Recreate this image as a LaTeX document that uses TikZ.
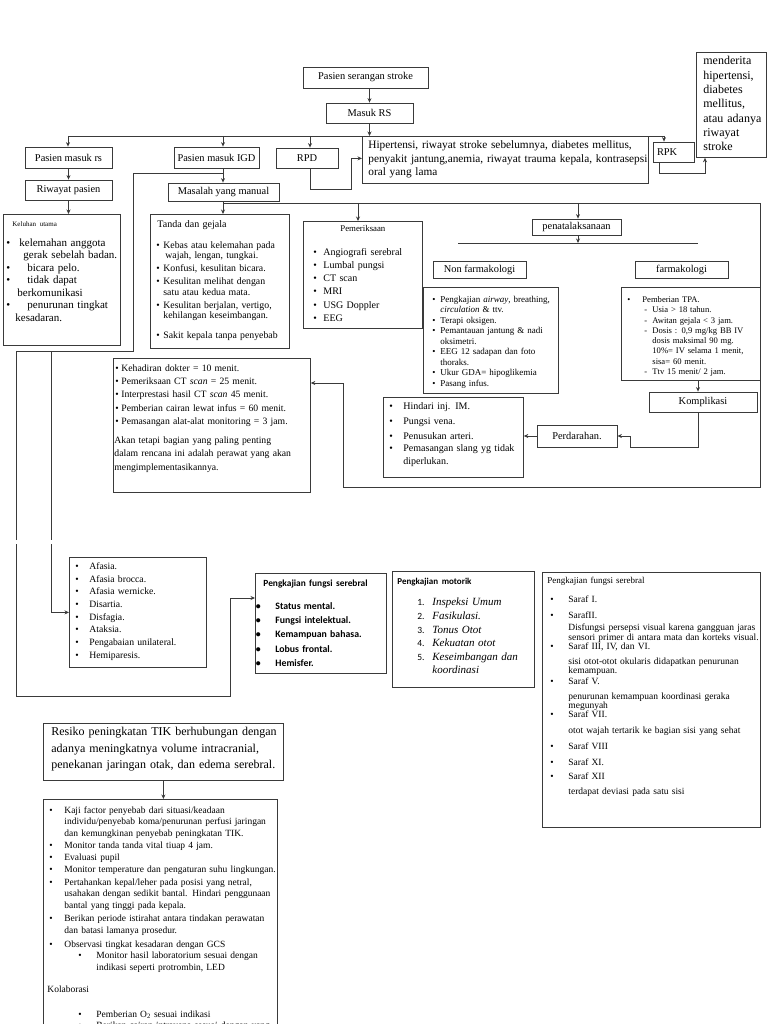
\documentclass[tikz,border=0pt]{standalone}
\usepackage{fontspec}
\setmainfont{Liberation Serif}
\newfontfamily\calib{Carlito}
\usetikzlibrary{arrows.meta,calc}

\definecolor{strich}{HTML}{3A3A3A}

% --- Zeilen mit festem Grundlinienabstand ---
\newcommand{\zsetup}{\baselineskip=0pt\lineskip=0pt\lineskiplimit=-\maxdimen\parindent=0pt\parskip=0pt\relax}
\newcommand{\erstezeile}[1]{\noindent\mbox{#1}\par}
\newcommand{\zeile}[2]{\vspace{#1}\noindent\mbox{#2}\par}
\newcommand{\punkt}[2]{\makebox[#2][l]{\hspace*{#1}\textbullet}}
\newcommand{\einzug}[1]{\hspace*{#1}}
\newcommand{\block}[2]{\makebox[#1][s]{#2}}
\newcommand{\fsz}[1]{\fontsize{#1}{#1}\selectfont}

\begin{document}
\begin{tikzpicture}[
  x=1pt, y=-1pt,
  >={Stealth[length=4.5pt,width=4pt]},
  linie/.style={draw=strich, line width=0.8pt},
  pfeil/.style={linie, ->},
  kasten/.style={draw=strich, line width=0.8pt, inner sep=0pt, font=\fsz{10.4}},
  tafel/.style={draw=strich, line width=0.8pt, inner sep=0pt, anchor=north west, execute at begin node=\zsetup},
]
\clip (0,0) rectangle (768,1024);

% --- Kopf: Aufnahme ---
\node[kasten, minimum width=125pt, minimum height=21pt] (stroke) at (365.5,77.5) {Pasien serangan stroke};
\node[kasten, minimum width=87pt, minimum height=20pt] (masuk) at (369.5,113) {Masuk RS};

% --- Erste Ebene ---
\node[kasten, minimum width=87pt, minimum height=21pt] (prs) at (68.5,157.5) {Pasien masuk rs};
\node[kasten, minimum width=85pt, minimum height=21pt] (igd) at (216.5,157.5) {Pasien masuk IGD};
\node[kasten, minimum width=62pt, minimum height=20pt] (rpd) at (307,158) {RPD};
\node[tafel, text width=286pt, text height=12.5pt, text depth=34.5pt, font=\fsz{11.3}] (hip) at (362,136) {%
  \erstezeile{\einzug{6pt}\block{275pt}{Hipertensi, riwayat stroke sebelumnya, diabetes mellitus,}}
  \zeile{13.5pt}{\einzug{6pt}\block{275pt}{penyakit jantung,anemia, riwayat trauma kepala, kontrasepsi}}
  \zeile{13.5pt}{\einzug{6pt}oral yang lama}};
\node[kasten, minimum width=41pt, minimum height=20pt, text width=33pt, align=left] (rpk) at (673.5,152) {RPK};
\node[tafel, text width=70pt, text height=12.5pt, text depth=92.5pt, font=\fsz{12}] (mend) at (696,52) {%
  \erstezeile{\einzug{7pt}menderita}
  \zeile{14.3pt}{\einzug{7pt}hipertensi,}
  \zeile{14.3pt}{\einzug{7pt}diabetes}
  \zeile{14.3pt}{\einzug{7pt}mellitus,}
  \zeile{14.3pt}{\einzug{7pt}atau adanya}
  \zeile{14.3pt}{\einzug{7pt}riwayat}
  \zeile{14.3pt}{\einzug{7pt}stroke}};

% --- Zweite Ebene ---
\node[kasten, minimum width=87pt, minimum height=20pt] (riw) at (68.5,190) {Riwayat pasien};
\node[kasten, minimum width=111pt, minimum height=18pt] (mas) at (223.5,192) {Masalah yang manual};

\node[tafel, text width=117pt, text height=12.5pt, text depth=118.5pt, font=\fsz{11}] (kel) at (3,214) {%
  \erstezeile{\einzug{9pt}{\fsz{7}Keluhan utama}}
  \zeile{19.5pt}{\punkt{3pt}{16pt}kelemahan anggota}
  \zeile{12.5pt}{\einzug{20pt}gerak sebelah badan.}
  \zeile{12.5pt}{\punkt{3pt}{24pt}bicara pelo.}
  \zeile{12.5pt}{\punkt{3pt}{24pt}tidak dapat}
  \zeile{12.5pt}{\einzug{14pt}berkomunikasi}
  \zeile{12.5pt}{\punkt{3pt}{24pt}penurunan tingkat}
  \zeile{12.5pt}{\einzug{12pt}kesadaran.}};

\node[tafel, text width=139pt, text height=13pt, text depth=121pt, font=\fsz{9.8}] (tan) at (150,214) {%
  \erstezeile{\einzug{7pt}{\fsz{10}Tanda dan gejala}}
  \zeile{21pt}{\punkt{6pt}{13pt}Kebas atau kelemahan pada}
  \zeile{10.5pt}{\einzug{15pt}wajah, lengan, tungkai.}
  \zeile{13pt}{\punkt{6pt}{13pt}Konfusi, kesulitan bicara.}
  \zeile{13pt}{\punkt{6pt}{13pt}Kesulitan melihat dengan}
  \zeile{10.5pt}{\einzug{13pt}satu atau kedua mata.}
  \zeile{13pt}{\punkt{6pt}{13pt}Kesulitan berjalan, vertigo,}
  \zeile{10.5pt}{\einzug{13pt}kehilangan keseimbangan.}
  \zeile{19.5pt}{\punkt{6pt}{13pt}Sakit kepala tanpa penyebab}};

% --- Pemeriksaan und penatalaksanaan ---
\node[tafel, text width=119pt, text height=10pt, text depth=97pt, font=\fsz{10}] (pem) at (303,221) {%
  \erstezeile{\makebox[119pt]{\fsz{8.8}Pemeriksaan}}
  \zeile{24pt}{\punkt{10pt}{20pt}Angiografi serebral}
  \zeile{13.2pt}{\punkt{10pt}{20pt}Lumbal pungsi}
  \zeile{13.2pt}{\punkt{10pt}{20pt}CT scan}
  \zeile{13.2pt}{\punkt{10pt}{20pt}MRI}
  \zeile{13.2pt}{\punkt{10pt}{20pt}USG Doppler}
  \zeile{13.2pt}{\punkt{10pt}{20pt}EEG}};
\node[kasten, minimum width=89pt, minimum height=16pt] (pen) at (576.5,227) {penatalaksanaan};
\node[kasten, minimum width=93pt, minimum height=17pt] (nonf) at (479.5,269.5) {Non farmakologi};
\node[kasten, minimum width=93pt, minimum height=17pt] (farm) at (681.5,269.5) {farmakologi};

\node[tafel, text width=135pt, text height=15pt, text depth=91pt, font=\fsz{9}] (nonl) at (423,287) {%
  \erstezeile{\punkt{9pt}{17pt}Pengkajian \textit{airway}, breathing,}
  \zeile{10.5pt}{\einzug{17pt}\textit{circulation} \& ttv.}
  \zeile{10.5pt}{\punkt{9pt}{17pt}Terapi oksigen.}
  \zeile{10.5pt}{\punkt{9pt}{17pt}Pemantauan jantung \& nadi}
  \zeile{10.5pt}{\einzug{17pt}oksimetri.}
  \zeile{10.5pt}{\punkt{9pt}{17pt}EEG 12 sadapan dan foto}
  \zeile{10.5pt}{\einzug{17pt}thoraks.}
  \zeile{10.5pt}{\punkt{9pt}{17pt}Ukur GDA= hipoglikemia}
  \zeile{10.5pt}{\punkt{9pt}{17pt}Pasang infus.}};

\node[tafel, text width=139pt, text height=15pt, text depth=78pt, font=\fsz{8.6}] (farml) at (621,287) {%
  \erstezeile{\punkt{6pt}{21pt}Pemberian TPA.}
  \zeile{10.3pt}{\einzug{23pt}\makebox[8pt][l]{-}Usia > 18 tahun.}
  \zeile{10.3pt}{\einzug{23pt}\makebox[8pt][l]{-}Awitan gejala < 3 jam.}
  \zeile{10.3pt}{\einzug{23pt}\makebox[8pt][l]{-}Dosis : 0,9 mg/kg BB IV}
  \zeile{10.3pt}{\einzug{31pt}dosis maksimal 90 mg.}
  \zeile{10.3pt}{\einzug{31pt}10\%= IV selama 1 menit,}
  \zeile{10.3pt}{\einzug{31pt}sisa= 60 menit.}
  \zeile{10.3pt}{\einzug{23pt}\makebox[8pt][l]{-}Ttv 15 menit/ 2 jam.}};

\node[kasten, minimum width=108pt, minimum height=20pt] (kom) at (703,402) {Komplikasi};
\node[kasten, minimum width=80pt, minimum height=22pt] (per) at (577,436) {Perdarahan.};

\node[tafel, text width=140pt, text height=12.5pt, text depth=67.5pt, font=\fsz{10}] (hin) at (383,397) {%
  \erstezeile{\punkt{6pt}{20pt}Hindari inj. IM.}
  \zeile{15pt}{\punkt{6pt}{20pt}Pungsi vena.}
  \zeile{15pt}{\punkt{6pt}{20pt}Penusukan arteri.}
  \zeile{12pt}{\punkt{6pt}{20pt}Pemasangan slang yg tidak}
  \zeile{13pt}{\einzug{20pt}diperlukan.}};

\node[tafel, text width=197pt, text height=13pt, text depth=121pt, font=\fsz{9.7}] (keh) at (113,358) {%
  \erstezeile{\punkt{2pt}{8pt}Kehadiran dokter = 10 menit.}
  \zeile{13.2pt}{\punkt{2pt}{8pt}Pemeriksaan CT \textit{scan} = 25 menit.}
  \zeile{13.2pt}{\punkt{2pt}{8pt}Interprestasi hasil CT \textit{scan} 45 menit.}
  \zeile{13.2pt}{\punkt{2pt}{8pt}Pemberian cairan lewat infus = 60 menit.}
  \zeile{13.2pt}{\punkt{2pt}{8pt}Pemasangan alat-alat monitoring = 3 jam.}
  \zeile{19.2pt}{\einzug{1pt}\block{180pt}{Akan tetapi bagian yang paling penting}}
  \zeile{13.5pt}{\einzug{1pt}\block{180pt}{dalam rencana ini adalah perawat yang akan}}
  \zeile{13.5pt}{\einzug{1pt}mengimplementasikannya.}};

% --- Untere Reihe ---
\node[tafel, text width=137pt, text height=12pt, text depth=98pt, font=\fsz{9.7}] (afa) at (69,557) {%
  \erstezeile{\punkt{6pt}{20pt}Afasia.}
  \zeile{12.7pt}{\punkt{6pt}{20pt}Afasia brocca.}
  \zeile{12.7pt}{\punkt{6pt}{20pt}Afasia wernicke.}
  \zeile{12.7pt}{\punkt{6pt}{20pt}Disartia.}
  \zeile{12.7pt}{\punkt{6pt}{20pt}Disfagia.}
  \zeile{12.7pt}{\punkt{6pt}{20pt}Ataksia.}
  \zeile{12.7pt}{\punkt{6pt}{20pt}Pengabaian unilateral.}
  \zeile{12.7pt}{\punkt{6pt}{20pt}Hemiparesis.}};

\node[tafel, text width=131pt, text height=13pt, text depth=87pt, font=\calib\bfseries\fsz{9.8}] (pfs1) at (255,573) {%
  \erstezeile{\einzug{8pt}{\fsz{9.4}Pengkajian fungsi serebral}}
  \zeile{23pt}{\punkt{0.5pt}{20pt}Status mental.}
  \zeile{14pt}{\punkt{0.5pt}{20pt}Fungsi intelektual.}
  \zeile{14.5pt}{\punkt{0.5pt}{20pt}Kemampuan bahasa.}
  \zeile{14.5pt}{\punkt{0.5pt}{20pt}Lobus frontal.}
  \zeile{14pt}{\punkt{0.5pt}{20pt}Hemisfer.}};

\node[tafel, text width=142pt, text height=13.5pt, text depth=102.5pt, font=\fsz{11}] (mot) at (392,571) {%
  \erstezeile{\einzug{5pt}{\calib\bfseries\fsz{9}Pengkajian motorik}}
  \zeile{21pt}{\einzug{25pt}\makebox[15pt][l]{\calib\fsz{9.5}1.}\textit{Inspeksi Umum}}
  \zeile{13.6pt}{\einzug{25pt}\makebox[15pt][l]{\calib\fsz{9.5}2.}\textit{Fasikulasi.}}
  \zeile{13.6pt}{\einzug{25pt}\makebox[15pt][l]{\calib\fsz{9.5}3.}\textit{Tonus Otot}}
  \zeile{13.6pt}{\einzug{25pt}\makebox[15pt][l]{\calib\fsz{9.5}4.}\textit{Kekuatan otot}}
  \zeile{13.6pt}{\einzug{25pt}\makebox[15pt][l]{\calib\fsz{9.5}5.}\textit{Keseimbangan dan}}
  \zeile{13.6pt}{\einzug{40pt}\textit{koordinasi}}};

\node[tafel, text width=218pt, text height=11.5pt, text depth=243.5pt, font=\fsz{9.5}] (pfs2) at (542,572) {%
  \erstezeile{\einzug{5pt}{\fsz{9}Pengkajian fungsi serebral}}
  \zeile{19pt}{\punkt{8pt}{26pt}Saraf I.}
  \zeile{16pt}{\punkt{8pt}{26pt}SarafII.}
  \zeile{12pt}{\einzug{26pt}\block{187pt}{Disfungsi persepsi visual karena gangguan jaras}}
  \zeile{10pt}{\einzug{26pt}sensori primer di antara mata dan korteks visual.}
  \zeile{9pt}{\punkt{8pt}{26pt}Saraf III, IV, dan VI.}
  \zeile{15pt}{\einzug{26pt}\block{187pt}{sisi otot-otot okularis didapatkan penurunan}}
  \zeile{9pt}{\einzug{26pt}kemampuan.}
  \zeile{11pt}{\punkt{8pt}{26pt}Saraf V.}
  \zeile{15pt}{\einzug{26pt}\block{187pt}{penurunan kemampuan koordinasi geraka}}
  \zeile{9pt}{\einzug{26pt}megunyah}
  \zeile{9pt}{\punkt{8pt}{26pt}Saraf VII.}
  \zeile{16pt}{\einzug{26pt}otot wajah tertarik ke bagian sisi yang sehat}
  \zeile{16pt}{\punkt{8pt}{26pt}Saraf VIII}
  \zeile{16pt}{\punkt{8pt}{26pt}Saraf XI.}
  \zeile{14pt}{\punkt{8pt}{26pt}Saraf XII}
  \zeile{15pt}{\einzug{26pt}terdapat deviasi pada satu sisi}};

% --- Diagnose und Intervention ---
\node[tafel, text width=240pt, text height=12.5pt, text depth=44.5pt, font=\fsz{12}] (res) at (43,723) {%
  \erstezeile{\einzug{8pt}\block{222pt}{Resiko peningkatan TIK berhubungan dengan}}
  \zeile{17pt}{\einzug{8pt}\block{222pt}{adanya meningkatnya volume intracranial,}}
  \zeile{16pt}{\einzug{8pt}penekanan jaringan otak, dan edema serebral.}};

\node[tafel, text width=234pt, text height=14pt, text depth=226pt, font=\fsz{9.5}] (big) at (43,799) {%
  \erstezeile{\punkt{6pt}{21pt}\block{211pt}{Kaji factor penyebab dari situasi/keadaan}}
  \zeile{11pt}{\einzug{21pt}\block{211pt}{individu/penyebab koma/penurunan perfusi jaringan}}
  \zeile{12pt}{\einzug{21pt}dan kemungkinan penyebab peningkatan TIK.}
  \zeile{12pt}{\punkt{6pt}{21pt}Monitor tanda tanda vital tiuap 4 jam.}
  \zeile{12pt}{\punkt{6pt}{21pt}Evaluasi pupil}
  \zeile{12pt}{\punkt{6pt}{21pt}Monitor temperature dan pengaturan suhu lingkungan.}
  \zeile{13pt}{\punkt{6pt}{21pt}\block{211pt}{Pertahankan kepal/leher pada posisi yang netral,}}
  \zeile{11pt}{\einzug{21pt}\block{211pt}{usahakan dengan sedikit bantal. Hindari penggunaan}}
  \zeile{12pt}{\einzug{21pt}bantal yang tinggi pada kepala.}
  \zeile{13pt}{\punkt{6pt}{21pt}\block{211pt}{Berikan periode istirahat antara tindakan perawatan}}
  \zeile{12pt}{\einzug{21pt}dan batasi lamanya prosedur.}
  \zeile{14pt}{\punkt{6pt}{21pt}Observasi tingkat kesadaran dengan GCS}
  \zeile{11pt}{\punkt{35pt}{53pt}\block{179pt}{Monitor hasil laboratorium sesuai dengan}}
  \zeile{12pt}{\einzug{53pt}indikasi seperti protrombin, LED}
  \zeile{22pt}{\einzug{4pt}Kolaborasi}
  \zeile{25pt}{\punkt{35pt}{53pt}Pemberian O\textsubscript{2} sesuai indikasi}
  \zeile{11pt}{\punkt{35pt}{53pt}\block{179pt}{Berikan cairan intravena sesuai dengan yang}}};

% --- Verbindungen oben ---
\coordinate (busW) at (68,136);
\coordinate (busE) at (664,136);
\coordinate (xIGD) at (223,136);
\coordinate (xRPD) at (310,136);
\draw[pfeil] (stroke.south -| masuk) -- (masuk.north);
\draw[pfeil] (masuk.south) -- (masuk.south |- busW);
\draw[linie] (busW) -- (busE);
\draw[pfeil] (busW) -- (busW |- prs.north);
\draw[pfeil] (xIGD) -- (xIGD |- igd.north);
\draw[pfeil] (xRPD) -- (xRPD |- rpd.north);
\draw[pfeil] (busE) -- (busE |- rpk.north);
\draw[pfeil] (xRPD |- rpd.south) -- ++(0,21) -| ($(hip.west)+(-11,-1.5)$) -- ($(hip.west)+(0,-1.5)$);
\draw[pfeil] ($(rpk.south west)+(7,0)$) -- ++(0,11) -| ($(mend.south west)+(9,0)$);

% --- Verbindungen links ---
\draw[pfeil] (prs) -- (riw);
\draw[pfeil] (riw.south) -- (riw.south |- kel.north);
\draw[pfeil] (xIGD |- igd.south) -- (xIGD |- mas.north);
\draw[pfeil] (xIGD |- mas.south) -- (xIGD |- tan.north);
\coordinate (gab1) at (223,173);
\draw[linie] (gab1) -- (133,173) -- (133,351) -- (16,351) -- (16,540);
\draw[pfeil] (16,544) -- (16,696) -| (230,598) -- (pfs1.west |- 0,598);
\draw[linie] (51,351) -- (51,540);
\draw[pfeil] (51,544) |- (afa.west);

% --- Verbindungen rechts ---
\coordinate (gab2) at (223,203);
\coordinate (xPem) at (358,203);
\coordinate (xPen) at (578,203);
\coordinate (xKom) at (698,380);
\draw[pfeil] (gab2) -- (760,203) -- (760,487) -- (343,487) -- (343,383) -- (keh.east |- 0,383);
\draw[pfeil] (xPem) -- (xPem |- pem.north);
\draw[pfeil] (xPen) -- (xPen |- pen.north);
\draw[pfeil] (xPen |- pen.south) -- (578,243);
\draw[linie] (458,243) -- (698,243);
\draw[pfeil] (xKom |- farml.south) -- (xKom |- kom.north);
\draw[pfeil] (xKom |- kom.south) -- ++(0,35) -| (630,436) -- (per.east);
\draw[pfeil] (per.west) -- (per.west -| hin.east);

% --- Diagnose -> Intervention ---
\draw[pfeil] (res.south) -- (res.south |- big.north);

\end{tikzpicture}
\end{document}
